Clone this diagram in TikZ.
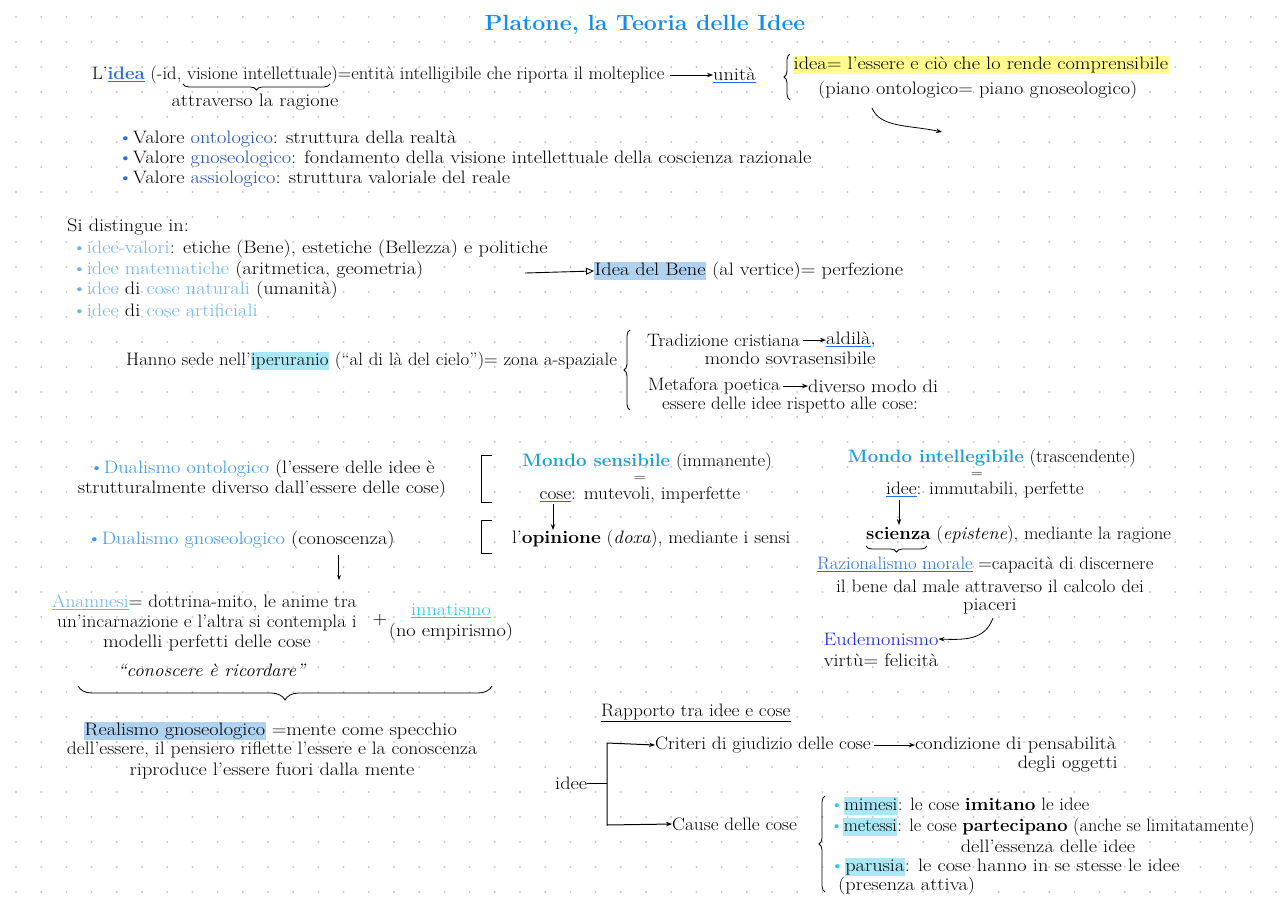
\documentclass[tikz,border=0pt]{standalone}
\usepackage{fontspec}
\setmainfont{Latin Modern Roman}[FakeStretch=1.13]
\usetikzlibrary{decorations.pathreplacing,arrows.meta}
\definecolor{titleblue}{RGB}{20,140,240}
\definecolor{dblue}{RGB}{30,80,170}
\definecolor{lblue}{RGB}{110,180,235}
\definecolor{mblue}{RGB}{60,150,225}
\definecolor{cyanb}{RGB}{25,160,215}
\definecolor{eud}{RGB}{20,40,220}
\definecolor{hlyellow}{RGB}{255,250,140}
\definecolor{hlblue}{RGB}{175,210,240}
\definecolor{hlcyan}{RGB}{170,232,245}
\definecolor{ulblue}{RGB}{40,110,220}
\definecolor{innat}{RGB}{40,200,235}
\newcommand{\hlt}[2]{{\setlength{\fboxsep}{0.5pt}\colorbox{#1}{\vphantom{Ag}#2}}}
\newcommand{\ulc}[2]{{\color{#1}$\underline{\hbox{\color{black}#2}}$}}
\newcommand{\ulcc}[2]{{\color{#1}$\underline{\hbox{#2}}$}}
\newcommand{\bul}[1]{{\color{#1}\textbullet}}
\newcommand{\sx}[2]{\scalebox{#1}[1]{#2}}
\tikzset{
  t/.style={anchor=west,inner sep=0pt,font=\fontsize{18}{21}\selectfont},
  c/.style={anchor=center,inner sep=0pt,align=center,font=\fontsize{18}{21}\selectfont},
  arr/.style={-{Stealth[length=6pt]},line width=1pt},
  brc/.style={decorate,decoration={brace,amplitude=6pt},line width=0.8pt}
}
\begin{document}
\begin{tikzpicture}[x=1pt,y=-1pt]
\useasboundingbox (0,0) rectangle (1280,906);
\fill[white] (0,0) rectangle (1280,906);
\foreach \i in {0,...,50}{\foreach \j in {0,...,35}{\fill[gray!45] (16+25.2*\i,17+25*\j) circle (1.1pt);}}
\node[c,font=\fontsize{22}{26}\selectfont\bfseries,text=titleblue] (title) at (645,25) {\sx{0.93}{Platone, la Teoria delle Idee}};
% top line
\node[t] (idea) at (92,75) {\sx{0.915}{L'\ulcc{ulblue}{\bfseries\color{ulblue}idea} (-id, visione intellettuale)=entità intelligibile che riporta il molteplice}};
\node[t] (unita) at (713,75) {\ulc{ulblue}{unità}};
\draw[arr] (idea.east)++(5,0) coordinate(a1) -- (unita.west);
\draw[brc] (330,84) -- (183,84);
\node[c] (ragione) at (255,102) {attraverso la ragione};
\draw[brc] (790,100) -- (790,54);
\node[t] (ideaeq) at (793,65) {\hlt{hlyellow}{idea= l'essere e ciò che lo rende comprensibile}};
\node[t] (piano) at (818,90) {(piano ontologico= piano gnoseologico)};
\coordinate (pe) at (942,132);
\draw[arr,line width=0.8pt] (872,108) .. controls (880,128) and (910,125) .. (pe);
% valori
\node[t] (v1) at (118,139) {\bul{ulblue}Valore {\color{dblue}ontologico}: struttura della realtà};
\node[t] (v2) at (118,159) {\bul{ulblue}Valore {\color{dblue}gnoseologico}: fondamento della visione intellettuale della coscienza razionale};
\node[t] (v3) at (118,179) {\bul{ulblue}Valore {\color{dblue}assiologico}: struttura valoriale del reale};
% si distingue
\node[t] (sd) at (67,227) {Si distingue in:};
\node[t] (i1) at (72,249) {\bul{lblue}{\color{lblue}idee-valori}: etiche (Bene), estetiche (Bellezza) e politiche};
\node[t] (i2) at (72,270) {\bul{lblue}{\color{lblue}idee matematiche} (aritmetica, geometria)};
\node[t] (i3) at (72,290) {\bul{lblue}{\color{lblue}idee} di {\color{lblue}cose naturali} (umanità)};
\node[t] (i4) at (72,310) {\bul{lblue}{\color{lblue}idee} di {\color{lblue}cose artificiali}};
\coordinate (bs) at (525,273);
\node[t] (bene) at (594,271) {\hlt{hlblue}{Idea del Bene} (al vertice)= perfezione};
\draw[-{Triangle[open,length=8pt,width=7pt]},line width=0.9pt] (bs) -- (bene.west);
% iperuranio
\node[t] (iper) at (126,361) {\sx{0.93}{Hanno sede nell'\hlt{hlcyan}{iperuranio} (``al di là del cielo'')= zona a-spaziale}};
\draw[brc] (630,410) -- (630,330);
\node[t] (trad) at (647,340) {\sx{0.95}{Tradizione cristiana}};
\node[t] (aldila) at (826,340) {\ulc{ulblue}{aldilà},};
\draw[arr] (trad.east)++(3,0) -- (aldila.west);
\node[c] (sovra) at (790,358) {mondo sovrasensibile};
\node[t] (meta) at (648,386) {\sx{0.95}{Metafora poetica}};
\node[t] (div) at (808,386) {diverso modo di};
\draw[arr] (meta.east)++(3,0) -- (div.west);
\node[c] (ess) at (790,405) {\sx{0.93}{essere delle idee rispetto alle cose:}};
% dualismo
\node[c] (dual1) at (262,469) {\bul{mblue}{\color{mblue}Dualismo ontologico} (l'essere delle idee è};
\node[c] (dual1b) at (262,489) {strutturalmente diverso dall'essere delle cose)};
\draw[line width=0.9pt] (492,455) -- (481,455) -- (481,502) -- (492,502);
\draw[line width=0.9pt] (492,520) -- (481,520) -- (481,553) -- (492,553);
\node[c] (ms) at (647,462) {\sx{0.92}{{\bfseries\color{cyanb}Mondo sensibile} (immanente)}};
\node[c,font=\fontsize{14}{14}\selectfont] (eq1) at (640,479) {=};
\node[c] (cose) at (640,495) {\sx{0.95}{\ulc{ulblue}{cose}: mutevoli, imperfette}};
\node[t] (opin) at (512,539) {\sx{0.94}{l'\textbf{opinione} (\textit{doxa}), mediante i sensi}};
\coordinate (o1) at (553,504);
\draw[arr] (o1) -- (553,530);
\node[c] (mi) at (992,458) {\sx{0.915}{{\bfseries\color{cyanb}Mondo intellegibile} (trascendente)}};
\node[c,font=\fontsize{14}{14}\selectfont] (eq2) at (977,475) {=};
\node[c] (idee2) at (985,490) {\sx{0.95}{\ulc{ulblue}{idee}: immutabili, perfette}};
\node[t] (sci) at (866,535) {\sx{0.92}{\textbf{scienza} (\textit{epistene}), mediante la ragione}};
\coordinate (o2) at (899,500);
\draw[arr] (o2) -- (899,525);
\draw[brc] (927,546) -- (866,546);
\node[t] (raz) at (817,565) {\sx{0.92}{\ulcc{ulblue}{\color{ulblue}Razionalismo morale} =capacità di discernere}};
\node[c] (raz2) at (990,586) {\sx{0.95}{il bene dal male attraverso il calcolo dei}};
\node[c] (raz3) at (990,606) {piaceri};
\node[c] (eud) at (881,639) {{\color{eud}Eudemonismo}};
\node[c] (virtu) at (881,660) {virtù= felicità};
\draw[arr,line width=0.8pt] (993,618) .. controls (985,640) and (965,640) .. (eud.east);
\node[t] (dual2) at (87,540) {\bul{mblue}{\color{mblue}Dualismo gnoseologico} (conoscenza)};
\coordinate (d2) at (339,555);
\draw[-{Stealth[length=5pt]},double,line width=0.6pt] (d2) -- (339,580);
\node[t] (anam) at (52,603) {\sx{0.95}{\ulcc{lblue}{\color{lblue}Anamnesi}= dottrina-mito, le anime tra}};
\node[c] (anam2) at (207,623) {\sx{0.95}{un'incarnazione e l'altra si contempla i}};
\node[c] (anam3) at (207,643) {modelli perfetti delle cose};
\node[c] (plus) at (380,620) {+};
\node[c] (innat) at (451,611) {\ulcc{innat}{\color{innat}innatismo}};
\node[c] (noemp) at (451,632) {(no empirismo)};
\node[c] (cr) at (212,670) {\sx{0.93}{\textit{``conoscere è ricordare''}}};
\draw[brc,decoration={brace,amplitude=14pt}] (492,686) -- (78,686);
\node[t] (real) at (84,731) {\hlt{hlblue}{Realismo gnoseologico} =mente come specchio};
\node[c] (real2) at (272,750) {\sx{0.96}{dell'essere, il pensiero riflette l'essere e la conoscenza}};
\node[c] (real3) at (272,771) {riproduce l'essere fuori dalla mente};
% rapporto
\node[t] (rap) at (601,713) {\sx{0.95}{\underline{Rapporto tra idee e cose}}};
\node[t] (idee3) at (555,783) {idee};
\node[t] (crit) at (655,745) {\sx{0.95}{Criteri di giudizio delle cose}};
\node[t] (cond) at (915,745) {condizione di pensabilità};
\draw[arr] (crit.east)++(3,0) -- (cond.west);
\node[anchor=east,inner sep=0pt,font=\fontsize{18}{21}\selectfont] (ogg) at (1118,764) {degli oggetti};
\node[t] (cause) at (672,824) {\sx{0.95}{Cause delle cose}};
\draw[line width=0.9pt] (idee3.east) -- (607,783);
\draw[arr] (607,783) -- (607,743) -- (crit.west);
\draw[arr] (607,783) -- (607,825) -- (cause.west);
\draw[brc] (825,892) -- (825,796);
\node[t] (mim) at (830,806) {\sx{0.93}{\bul{innat}\hlt{hlcyan}{mimesi}: le cose \textbf{imitano} le idee}};
\node[t] (met) at (830,827) {\sx{0.9}{\bul{innat}\hlt{hlcyan}{metessi}: le cose \textbf{partecipano} (anche se limitatamente)}};
\node[c] (met2) at (1048,846) {dell'essenza delle idee};
\node[t] (par) at (830,867) {\bul{innat}\hlt{hlcyan}{parusia}: le cose hanno in se stesse le idee};
\node[t] (pres) at (838,886) {(presenza attiva)};
\end{tikzpicture}
\end{document}
